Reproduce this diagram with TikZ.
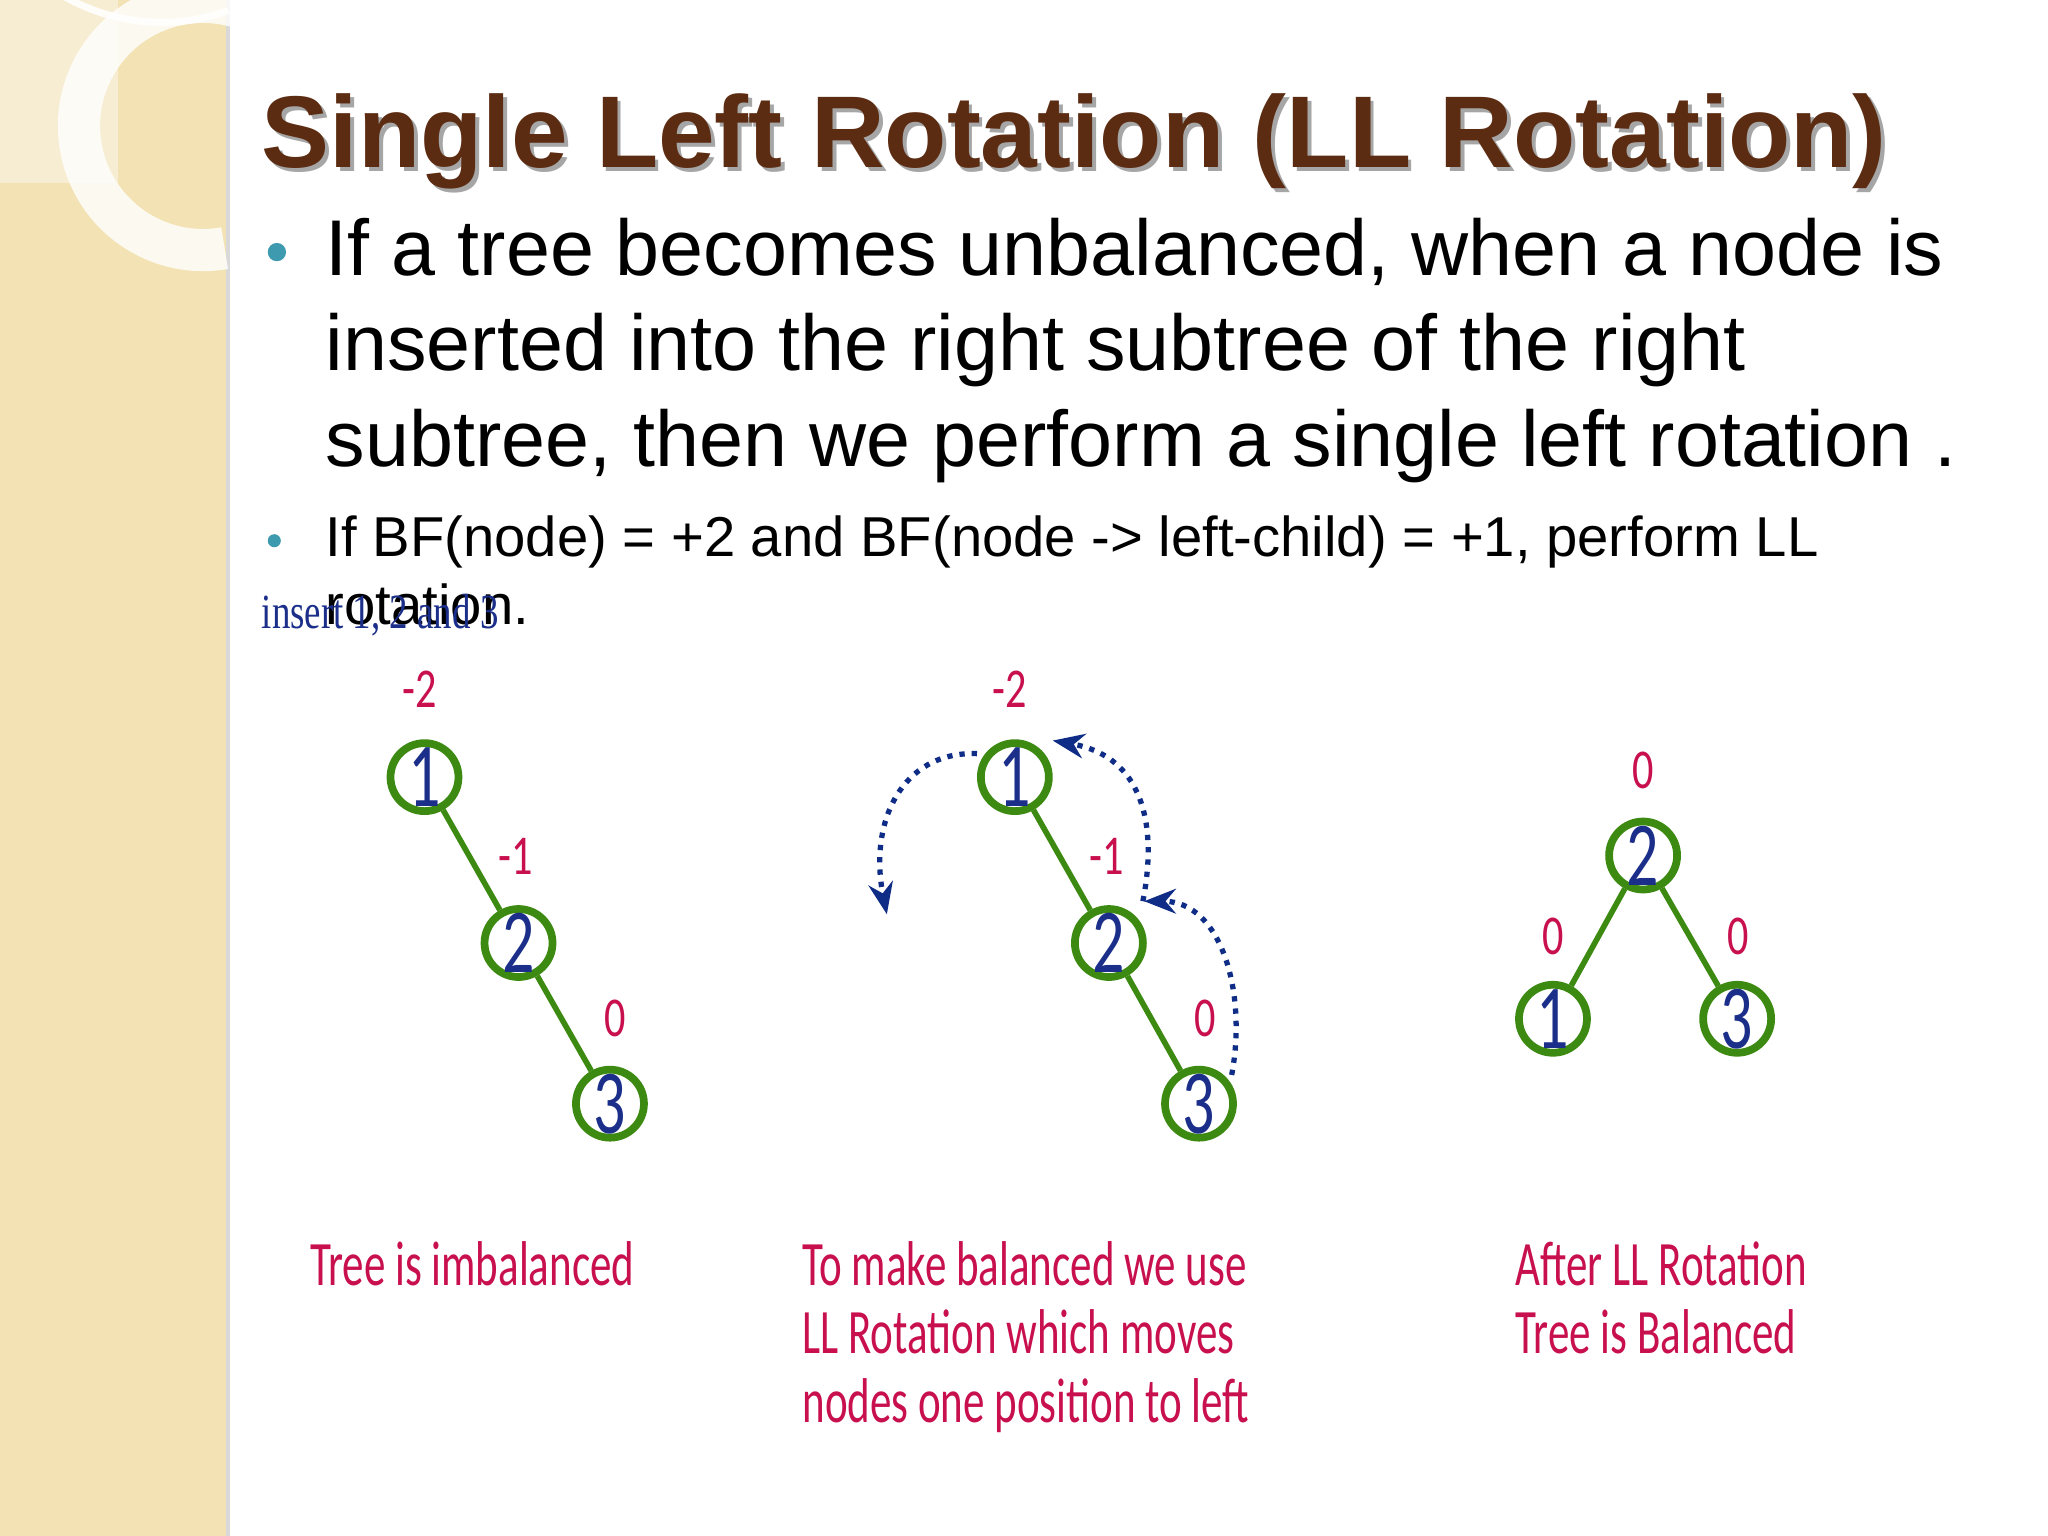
\documentclass[tikz,border=0pt]{standalone}
\usepackage{fontspec}
\setmainfont{Liberation Sans}
\newfontfamily\cond{Carlito}
\newfontfamily\serifx{Liberation Serif}
\usetikzlibrary{arrows.meta}
\definecolor{titlebrown}{HTML}{5C2C12}
\definecolor{strip}{HTML}{F2E2B4}
\definecolor{teal}{HTML}{3E9BAF}
\definecolor{tgreen}{HTML}{3D8A12}
\definecolor{tblue}{HTML}{1B2F8A}
\definecolor{tpink}{HTML}{C8104E}
\definecolor{darr}{HTML}{0F2D86}
\begin{document}
\begin{tikzpicture}[x=0.013061cm,y=-0.013061cm,
  tnode/.style={circle,draw=tgreen,line width=2.2pt,fill=white,minimum size=0.68cm,inner sep=0pt,font=\cond\fontsize{26}{26}\selectfont,text=tblue},
  bf/.style={font=\cond\fontsize{16}{16}\selectfont,text=tpink,xscale=0.75},
  captext/.style={font=\cond\fontsize{18}{17.5}\selectfont,text=tpink,align=left,anchor=north west,inner sep=0pt,xscale=0.68},
  edge/.style={draw=tgreen,line width=1.6pt},
  darrow/.style={draw=darr,line width=1.5pt,dotted,-{Stealth[length=9pt,width=7pt]}}]
\useasboundingbox (0,0) rectangle (1568,1176);
\fill[white] (0,0) rectangle (1568,1176);
\fill[strip] (0,0) rectangle (173,1176);
\fill[black!15] (173,0) rectangle (176,1176);
\fill[white,opacity=0.4] (0,0) rectangle (90,140);
\draw[white,line width=2pt,opacity=0.9] (175,8) arc[start angle=70,end angle=250,radius=150];
\draw[white,line width=12pt,opacity=0.8] (172,190) arc[start angle=80,end angle=290,radius=95];
% title
\node[anchor=base west,inner sep=0pt,text=black!35,font=\bfseries\fontsize{29}{29}\selectfont] at (203,131) {Single Left Rotation (LL Rotation)};
\node[anchor=base west,inner sep=0pt,text=titlebrown,font=\bfseries\fontsize{29}{29}\selectfont] (title) at (200,128) {Single Left Rotation (LL Rotation)};
% bullets
\fill[teal] (212,193) circle (7);
\node[anchor=base west,inner sep=0pt,font=\fontsize{22.5}{27.5}\selectfont] (b1) at (249,211) {If a tree becomes unbalanced, when a node is};
\node[anchor=base west,inner sep=0pt,font=\fontsize{22.5}{27.5}\selectfont] (b1b) at (249,284) {inserted into the right subtree of the right};
\node[anchor=base west,inner sep=0pt,font=\fontsize{22.5}{27.5}\selectfont] (b1c) at (249,357) {subtree, then we perform a single left rotation .};
\fill[teal] (210,414) circle (5);
\node[anchor=base west,inner sep=0pt,font=\fontsize{16}{20}\selectfont] (b2) at (249,426) {If BF(node) = +2 and BF(node -> left-child) = +1, perform LL};
\node[anchor=base west,inner sep=0pt,font=\fontsize{16}{20}\selectfont] (b2b) at (249,478) {rotation.};
\node[anchor=base west,inner sep=0pt,font=\serifx\fontsize{14}{14}\selectfont,text=tblue,xscale=0.75] (ins) at (200,481) {insert 1, 2 and 3};
% tree 1
\node[tnode] (a1) at (325,595) {\scalebox{0.7}[1]{1}};
\node[tnode] (a2) at (397,722) {\scalebox{0.7}[1]{2}};
\node[tnode] (a3) at (467,845) {\scalebox{0.7}[1]{3}};
\draw[edge] (a1) -- (a2); \draw[edge] (a2) -- (a3);
\node[bf] (la1) at (321,528) {-2};
\node[bf] (la2) at (395,656) {-1};
\node[bf] (la3) at (471,780) {0};
% tree 2
\node[tnode] (c1) at (777,595) {\scalebox{0.7}[1]{1}};
\node[tnode] (c2) at (849,722) {\scalebox{0.7}[1]{2}};
\node[tnode] (c3) at (918,845) {\scalebox{0.7}[1]{3}};
\draw[edge] (c1) -- (c2); \draw[edge] (c2) -- (c3);
\node[bf] (lc1) at (773,528) {-2};
\node[bf] (lc2) at (847,656) {-1};
\node[bf] (lc3) at (923,780) {0};
\coordinate (s1) at (748,577);
\coordinate (e1) at (679,700);
\draw[darrow] (s1) .. controls (690,575) and (665,630) .. (e1);
\coordinate (s2) at (875,690);
\coordinate (e2) at (806,567);
\draw[darrow] (s2) .. controls (885,640) and (880,580) .. (e2);
\coordinate (s3) at (943,823);
\coordinate (e3) at (876,690);
\draw[darrow] (s3) .. controls (955,760) and (935,690) .. (e3);
% tree 3
\node[tnode] (d2) at (1258,655) {\scalebox{0.7}[1]{2}};
\node[tnode] (d1) at (1189,780) {\scalebox{0.7}[1]{1}};
\node[tnode] (d3) at (1330,780) {\scalebox{0.7}[1]{3}};
\draw[edge] (d2) -- (d1); \draw[edge] (d2) -- (d3);
\node[bf] (ld2) at (1258,590) {0};
\node[bf] (ld1) at (1189,717) {0};
\node[bf] (ld3) at (1331,717) {0};
% captions
\node[captext] (k1) at (237,950) {Tree is imbalanced};
\node[captext] (k2) at (614,950) {To make balanced we use\\[2pt]LL Rotation which moves\\[2pt]nodes one position to left};
\node[captext] (k3) at (1160,950) {After LL Rotation\\[2pt]Tree is Balanced};
\end{tikzpicture}
\end{document}
